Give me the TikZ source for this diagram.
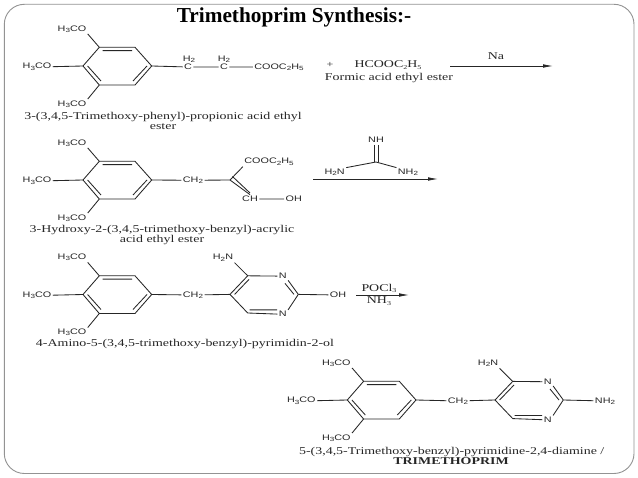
\documentclass[tikz,border=0pt]{standalone}
\usepackage{fontspec}
\usetikzlibrary{arrows.meta,calc}
\setmainfont{Liberation Serif}
\newfontfamily\labf[FakeStretch=1.35]{Liberation Sans}
\newfontfamily\namef[FakeStretch=1.34]{Liberation Serif}
\newcommand{\lsub}[1]{\raisebox{-.3ex}{\fontsize{6}{6}\selectfont #1}}
\definecolor{ink}{HTML}{262626}
\tikzset{
  atom/.style={inner sep=0pt,outer sep=1.5pt,text=ink,font=\labf\fontsize{8}{8}\selectfont},
  nm/.style={inner sep=0pt,text=ink,font=\namef\fontsize{10.4}{10.4}\selectfont},
  bond/.style={draw=ink,line width=.85pt},
  rxn/.style={draw=ink,line width=.75pt,-{Latex[length=10pt,width=3.6pt]}},
  tmb/.pic={
    \coordinate (a) at (0,0); \coordinate (b) at (16.3,-18.7);
    \coordinate (c) at (52,-18.7); \coordinate (d) at (68.7,0);
    \coordinate (e) at (52,19); \coordinate (f) at (16.3,19);
    \node[atom] (top) at (-11,-37) {H\lsub{3}CO};
    \node[atom] (left) at (-46,.7) {H\lsub{3}CO};
    \node[atom] (bot) at (-11,38) {H\lsub{3}CO};
    \draw[bond,line join=round] (a)--(b)--(c)--(d)--(e)--(f)--cycle;
    \draw[bond] (b)--(top.south east) (a)--(left.east) (f)--(bot.north east);
    \draw[bond] (19.5,-15.4)--(49,-15.4) (4.6,0)--(18,15) (50,15)--(64,0);
  },
  pyr/.pic={
    \coordinate (a) at (0,0); \coordinate (b) at (17.7,-18.6);
    \coordinate (d) at (68.3,0); \coordinate (f) at (17.7,18.6);
    \node[atom] (n1) at (52.7,-18.3) {N};
    \node[atom] (n2) at (52.7,19.7) {N};
    \node[atom] (am) at (-7,-36.6) {H\lsub{2}N};
    \draw[bond,line join=round] (a)--(b)--(n1.west) (n1.south east)--(d)--(n2.north east) (n2.west)--(f)--(a);
    \draw[bond] (b)--(am.south east);
    \draw[bond] (4.6,0)--(19,-15) (19.5,15.5)--(47,15.5) (55,-11)--(64,0);
  }
}
\begin{document}
\begin{tikzpicture}[x=1pt,y=-1pt]
\useasboundingbox (0,0) rectangle (638,478);
\fill[white] (0,0) rectangle (638,478);
\draw[draw=gray!85,line width=.9pt,rounded corners=20pt] (4.3,4.3) rectangle (634,473.5);
\node[inner sep=0pt,text=black,font=\bfseries\fontsize{21.3}{21.3}\selectfont] (title) at (294,17) {Trimethoprim Synthesis:-};

% Row 1
\pic (r1-) at (83,66) {tmb};
\node[atom] (c1) at (188,67) {C};
\node[atom] (h1) at (189,59.5) {H\lsub{2}};
\node[atom] (c2) at (224,67) {C};
\node[atom] (h2) at (224,59.5) {H\lsub{2}};
\node[atom] (ester1) at (279,67) {COOC\lsub{2}H\lsub{5}};
\draw[bond] (r1-d)--(c1) (c1)--(c2) (c2)--(ester1);
\node[nm,font=\namef\fontsize{9}{9}\selectfont] (plus) at (330,65) {+};
\node[nm] (form) at (388,65) {HCOOC\lsub{2}H\lsub{5}};
\node[nm] (formn) at (389,78) {Formic acid ethyl ester};
\coordinate (a1s) at (450,66); \coordinate (a1e) at (553,66);
\draw[rxn] (a1s)--(a1e);
\node[nm] (na) at (496,56) {Na};
\node[nm] (n1a) at (163,116.7) {3-(3,4,5-Trimethoxy-phenyl)-propionic acid ethyl};
\node[nm] (n1b) at (163,126.5) {ester};

% Row 2
\pic (r2-) at (83,180) {tmb};
\node[atom] (ch2b) at (193,180.3) {CH\lsub{2}};
\coordinate (v) at (230,180);
\node[atom] (ester2) at (269,161.7) {COOC\lsub{2}H\lsub{5}};
\node[atom] (ch) at (250,199) {CH};
\node[atom] (oh) at (293.7,199) {OH};
\draw[bond] (r2-d)--(ch2b) (ch2b)--(v) (v)--(ester2.south west) (v)--(ch.north) (ch)--(oh);
\draw[bond] (232.5,176.5)--(250,193);
\node[atom] (nh) at (376,140) {NH};
\coordinate (g) at (376,162);
\node[atom] (gl) at (334.7,172.5) {H\lsub{2}N};
\node[atom] (gr) at (408,172.5) {NH\lsub{2}};
\draw[bond] (374.4,145)--(374.4,162) (378,145)--(378,162);
\draw[bond] (gl.north east)--(g) (g)--(gr.north west);
\coordinate (a2s) at (313,179); \coordinate (a2e) at (438,179);
\draw[rxn] (a2s)--(a2e);
\node[nm] (n2a) at (162,230) {3-Hydroxy-2-(3,4,5-trimethoxy-benzyl)-acrylic};
\node[nm] (n2b) at (162,240) {acid ethyl ester};

% Row 3
\pic (r3-) at (83,294.5) {tmb};
\node[atom] (ch2c) at (193,295) {CH\lsub{2}};
\pic (p3-) at (230,294.4) {pyr};
\node[atom] (oh3) at (338,295) {OH};
\draw[bond] (r3-d)--(ch2c) (ch2c)--(p3-a) (p3-d)--(oh3);
\coordinate (a3s) at (356,295); \coordinate (a3e) at (409,295);
\draw[rxn] (a3s)--(a3e);
\node[nm] (pocl) at (379,288.5) {POCl\lsub{3}};
\node[nm] (nh3) at (379,301) {NH\lsub{3}};
\node[nm] (n3) at (185,344) {4-Amino-5-(3,4,5-trimethoxy-benzyl)-pyrimidin-2-ol};

% Row 4
\pic (r4-) at (347.3,400) {tmb};
\node[atom] (ch2d) at (458,401) {CH\lsub{2}};
\pic (p4-) at (495,400) {pyr};
\node[atom] (nh2d) at (605,401) {NH\lsub{2}};
\draw[bond] (r4-d)--(ch2d) (ch2d)--(p4-a) (p4-d)--(nh2d);
\node[nm] (n4a) at (451.7,451.7) {5-(3,4,5-Trimethoxy-benzyl)-pyrimidine-2,4-diamine /};
\node[nm,font=\namef\bfseries\fontsize{10.4}{10.4}\selectfont] (n4b) at (451,461) {TRIMETHOPRIM};
\end{tikzpicture}
\end{document}
